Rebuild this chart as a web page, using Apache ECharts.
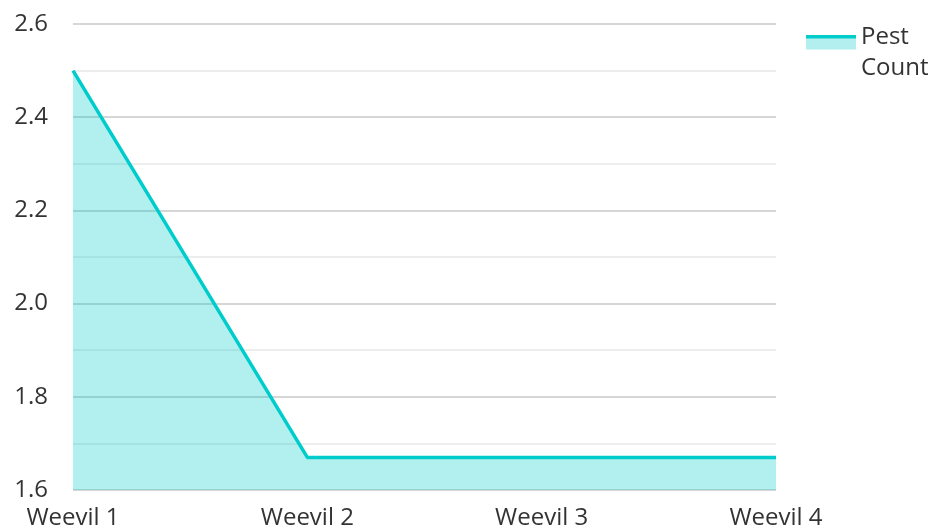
<!DOCTYPE html>
<html><head><meta charset="utf-8">
<script src="https://cdn.jsdelivr.net/npm/echarts@6/dist/echarts.min.js"></script>
<style>html,body{margin:0;padding:0;background:#fff}#c{width:933px;height:531px}</style>
</head><body><div id="c"></div>
<script>
const categories = ['Weevil 1', 'Weevil 2', 'Weevil 3', 'Weevil 4'];
const pestCount = [2.5, 1.67, 1.67, 1.67];
const seriesName = 'Pest Count';

const iconSvg = '<svg xmlns="http://www.w3.org/2000/svg" width="50" height="37"><rect x="0" y="3" width="50" height="12" fill="#b2efee"/><rect x="0" y="0" width="50" height="4" fill="#00cccc"/></svg>';
const chart = echarts.init(document.getElementById('c'));
chart.setOption({
  animation: false,
  textStyle: { fontFamily: 'Open Sans' },
  grid: { left: 73, right: 157, top: 24, bottom: 41 },
  legend: {
    left: 801, top: 17, orient: 'vertical',
    itemWidth: 50, itemHeight: 37, itemGap: 10,
    icon: 'image://data:image/svg+xml;charset=utf-8,' + encodeURIComponent(iconSvg),
    formatter: n => n.replace(' ', '\n'),
    textStyle: { fontSize: 24, color: '#333', lineHeight: 31, fontFamily: 'Open Sans' },
    data: [seriesName]
  },
  xAxis: {
    type: 'category', data: categories, boundaryGap: false,
    axisLine: { show: false }, axisTick: { show: false },
    axisLabel: { fontSize: 24, color: '#333', margin: 16, fontFamily: 'Open Sans' }
  },
  yAxis: {
    type: 'value', min: 1.6, max: 2.6, interval: 0.2,
    axisLine: { show: false }, axisTick: { show: false },
    axisLabel: { fontSize: 24, color: '#333', margin: 25, formatter: v => v.toFixed(1), fontFamily: 'Open Sans' },
    splitLine: { lineStyle: { color: '#c8c8c8', width: 1.5 } },
    minorTick: { show: false, splitNumber: 2 },
    minorSplitLine: { show: true, lineStyle: { color: '#e8e8e8', width: 1.5 } }
  },
  series: [{
    name: seriesName, type: 'line', data: pestCount,
    showSymbol: false, symbol: 'none',
    lineStyle: { color: '#00cccc', width: 3.5 },
    itemStyle: { color: '#00cccc' },
    areaStyle: { color: 'rgba(0,204,204,0.3)', opacity: 1, origin: 'start' }
  }]
});
</script></body></html>
